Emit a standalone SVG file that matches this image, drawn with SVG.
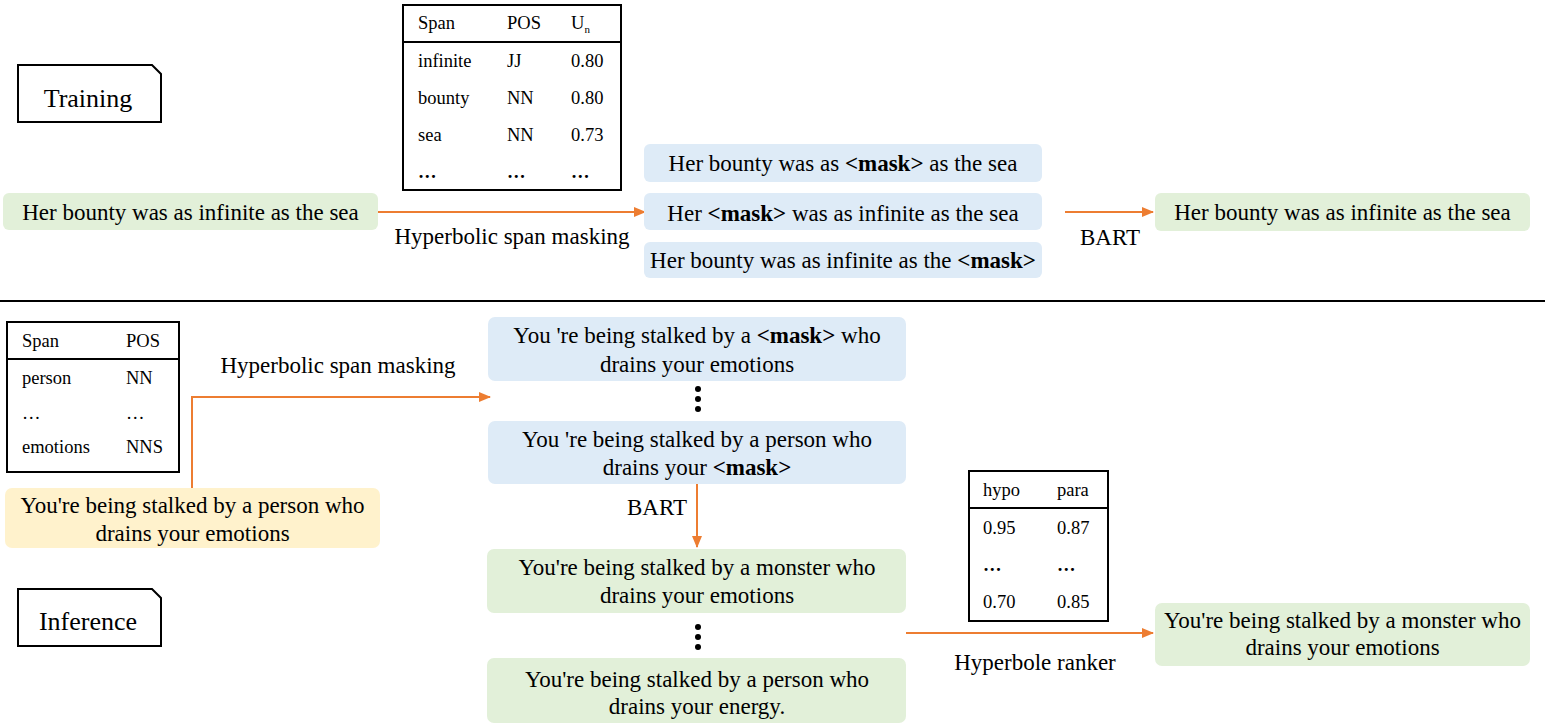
<svg xmlns="http://www.w3.org/2000/svg" width="1547" height="728" viewBox="0 0 1547 728">
<defs>
<marker id="ah" markerWidth="12" markerHeight="10" refX="11" refY="5" orient="auto" markerUnits="userSpaceOnUse">
<path d="M0,0 L12,5 L0,10 Z" fill="#ED7D31"/>
</marker>
<style>
text{font-family:"Liberation Serif","Times New Roman",serif;fill:#000}
.t{font-size:23px}
.m{text-anchor:middle}
.s{font-size:18.5px}
.h{font-size:26px}
.b{font-weight:bold}
.g{fill:#E2F0D9}
.bl{fill:#DEEBF7}
.y{fill:#FFF2CC}
.box{fill:#fff;stroke:#000;stroke-width:2}
.ln{stroke:#000;stroke-width:2;fill:none}
.ar{stroke:#ED7D31;stroke-width:2;fill:none;marker-end:url(#ah)}
</style>
</defs>
<rect width="1547" height="728" fill="#fff"/>

<line class="ln" x1="0" y1="301" x2="1545" y2="301"/>

<g id="connectors">
<line class="ar" x1="378" y1="212" x2="645" y2="212"/>
<line class="ar" x1="1065" y1="212" x2="1153" y2="212"/>
<polyline class="ar" points="192,488 192,397 490,397"/>
<line class="ar" x1="697" y1="484" x2="697" y2="547"/>
<line class="ar" x1="906" y1="633" x2="1153" y2="633"/>
<text class="t m" x="512" y="244">Hyperbolic span masking</text>
<text class="t m" x="1110" y="245">BART</text>
<text class="t m" x="338" y="373">Hyperbolic span masking</text>
<text class="t m" x="657" y="515">BART</text>
<text class="t m" x="1035" y="670">Hyperbole ranker</text>
</g>

<g id="training-label">
<path class="box" d="M18,65 H152 L161,74 V122 H18 Z"/>
<text class="h m" x="88" y="107">Training</text>
</g>

<g id="inference-label">
<path class="box" d="M18,589 H152 L161,598 V646 H18 Z"/>
<text class="h m" x="88" y="630">Inference</text>
</g>

<g id="train-input">
<rect class="g" x="3" y="193" width="375" height="37" rx="6"/>
<text class="t m" x="190.5" y="220">Her bounty was as infinite as the sea</text>
</g>

<g id="train-table">
<rect class="box" x="403" y="5" width="218" height="185"/>
<line class="ln" x1="403" y1="42" x2="621" y2="42"/>
<text class="s" x="418" y="29">Span</text>
<text class="s" x="507" y="29">POS</text>
<text class="s" x="571" y="29">U<tspan font-size="11" dy="4">n</tspan></text>
<text class="s" x="418" y="67">infinite</text>
<text class="s" x="507" y="67">JJ</text>
<text class="s" x="571" y="67">0.80</text>
<text class="s" x="418" y="104">bounty</text>
<text class="s" x="507" y="104">NN</text>
<text class="s" x="571" y="104">0.80</text>
<text class="s" x="418" y="141">sea</text>
<text class="s" x="507" y="141">NN</text>
<text class="s" x="571" y="141">0.73</text>
<text class="s b" x="418" y="178">…</text>
<text class="s b" x="507" y="178">…</text>
<text class="s b" x="571" y="178">…</text>
</g>

<g id="mask1">
<rect class="bl" x="644" y="144" width="398" height="38" rx="6"/>
<text class="t m" x="843" y="171">Her bounty was as <tspan class="b">&lt;mask&gt;</tspan> as the sea</text>
</g>
<g id="mask2">
<rect class="bl" x="644" y="193" width="398" height="37" rx="6"/>
<text class="t m" x="843" y="221">Her <tspan class="b">&lt;mask&gt;</tspan> was as infinite as the sea</text>
</g>
<g id="mask3">
<rect class="bl" x="644" y="242" width="398" height="36" rx="6"/>
<text class="t m" x="843" y="268">Her bounty was as infinite as the <tspan class="b">&lt;mask&gt;</tspan></text>
</g>

<g id="train-output">
<rect class="g" x="1155" y="193" width="375" height="38" rx="6"/>
<text class="t m" x="1342.5" y="220">Her bounty was as infinite as the sea</text>
</g>

<g id="infer-table">
<rect class="box" x="7" y="322" width="172" height="150"/>
<line class="ln" x1="7" y1="359" x2="179" y2="359"/>
<text class="s" x="22" y="347">Span</text>
<text class="s" x="126" y="347">POS</text>
<text class="s" x="22" y="384">person</text>
<text class="s" x="126" y="384">NN</text>
<text class="s" x="22" y="419">…</text>
<text class="s" x="126" y="419">…</text>
<text class="s" x="22" y="453">emotions</text>
<text class="s" x="126" y="453">NNS</text>
</g>

<g id="infer-input">
<rect class="y" x="5" y="488" width="375" height="60" rx="7"/>
<text class="t m" x="192.5" y="513">You're being stalked by a person who</text>
<text class="t m" x="192.5" y="541">drains your emotions</text>
</g>

<g id="imask1">
<rect class="bl" x="488" y="317" width="418" height="64" rx="7"/>
<text class="t m" x="697" y="343">You 're being stalked by a <tspan class="b">&lt;mask&gt;</tspan> who</text>
<text class="t m" x="697" y="372">drains your emotions</text>
</g>
<g id="idots1">
<circle cx="698" cy="389" r="3"/><circle cx="698" cy="399" r="3"/><circle cx="698" cy="409" r="3"/>
</g>
<g id="imask2">
<rect class="bl" x="488" y="421" width="418" height="63" rx="7"/>
<text class="t m" x="697" y="447">You 're being stalked by a person who</text>
<text class="t m" x="697" y="475">drains your <tspan class="b">&lt;mask&gt;</tspan></text>
</g>

<g id="cand1">
<rect class="g" x="487" y="549" width="419" height="64" rx="7"/>
<text class="t m" x="697" y="575">You're being stalked by a monster who</text>
<text class="t m" x="697" y="603">drains your emotions</text>
</g>
<g id="idots2">
<circle cx="698" cy="627" r="3"/><circle cx="698" cy="637" r="3"/><circle cx="698" cy="647" r="3"/>
</g>
<g id="cand2">
<rect class="g" x="487" y="658" width="419" height="65" rx="7"/>
<text class="t m" x="697" y="687">You're being stalked by a person who</text>
<text class="t m" x="697" y="714">drains your energy.</text>
</g>

<g id="rank-table">
<rect class="box" x="969" y="471" width="139" height="150"/>
<line class="ln" x1="969" y1="508" x2="1108" y2="508"/>
<text class="s" x="983" y="496">hypo</text>
<text class="s" x="1057" y="496">para</text>
<text class="s" x="983" y="534">0.95</text>
<text class="s" x="1057" y="534">0.87</text>
<text class="s b" x="983" y="571">…</text>
<text class="s b" x="1057" y="571">…</text>
<text class="s" x="983" y="608">0.70</text>
<text class="s" x="1057" y="608">0.85</text>
</g>

<g id="final-output">
<rect class="g" x="1155" y="603" width="375" height="63" rx="7"/>
<text class="t m" x="1342.5" y="628">You're being stalked by a monster who</text>
<text class="t m" x="1342.5" y="655">drains your emotions</text>
</g>
</svg>
